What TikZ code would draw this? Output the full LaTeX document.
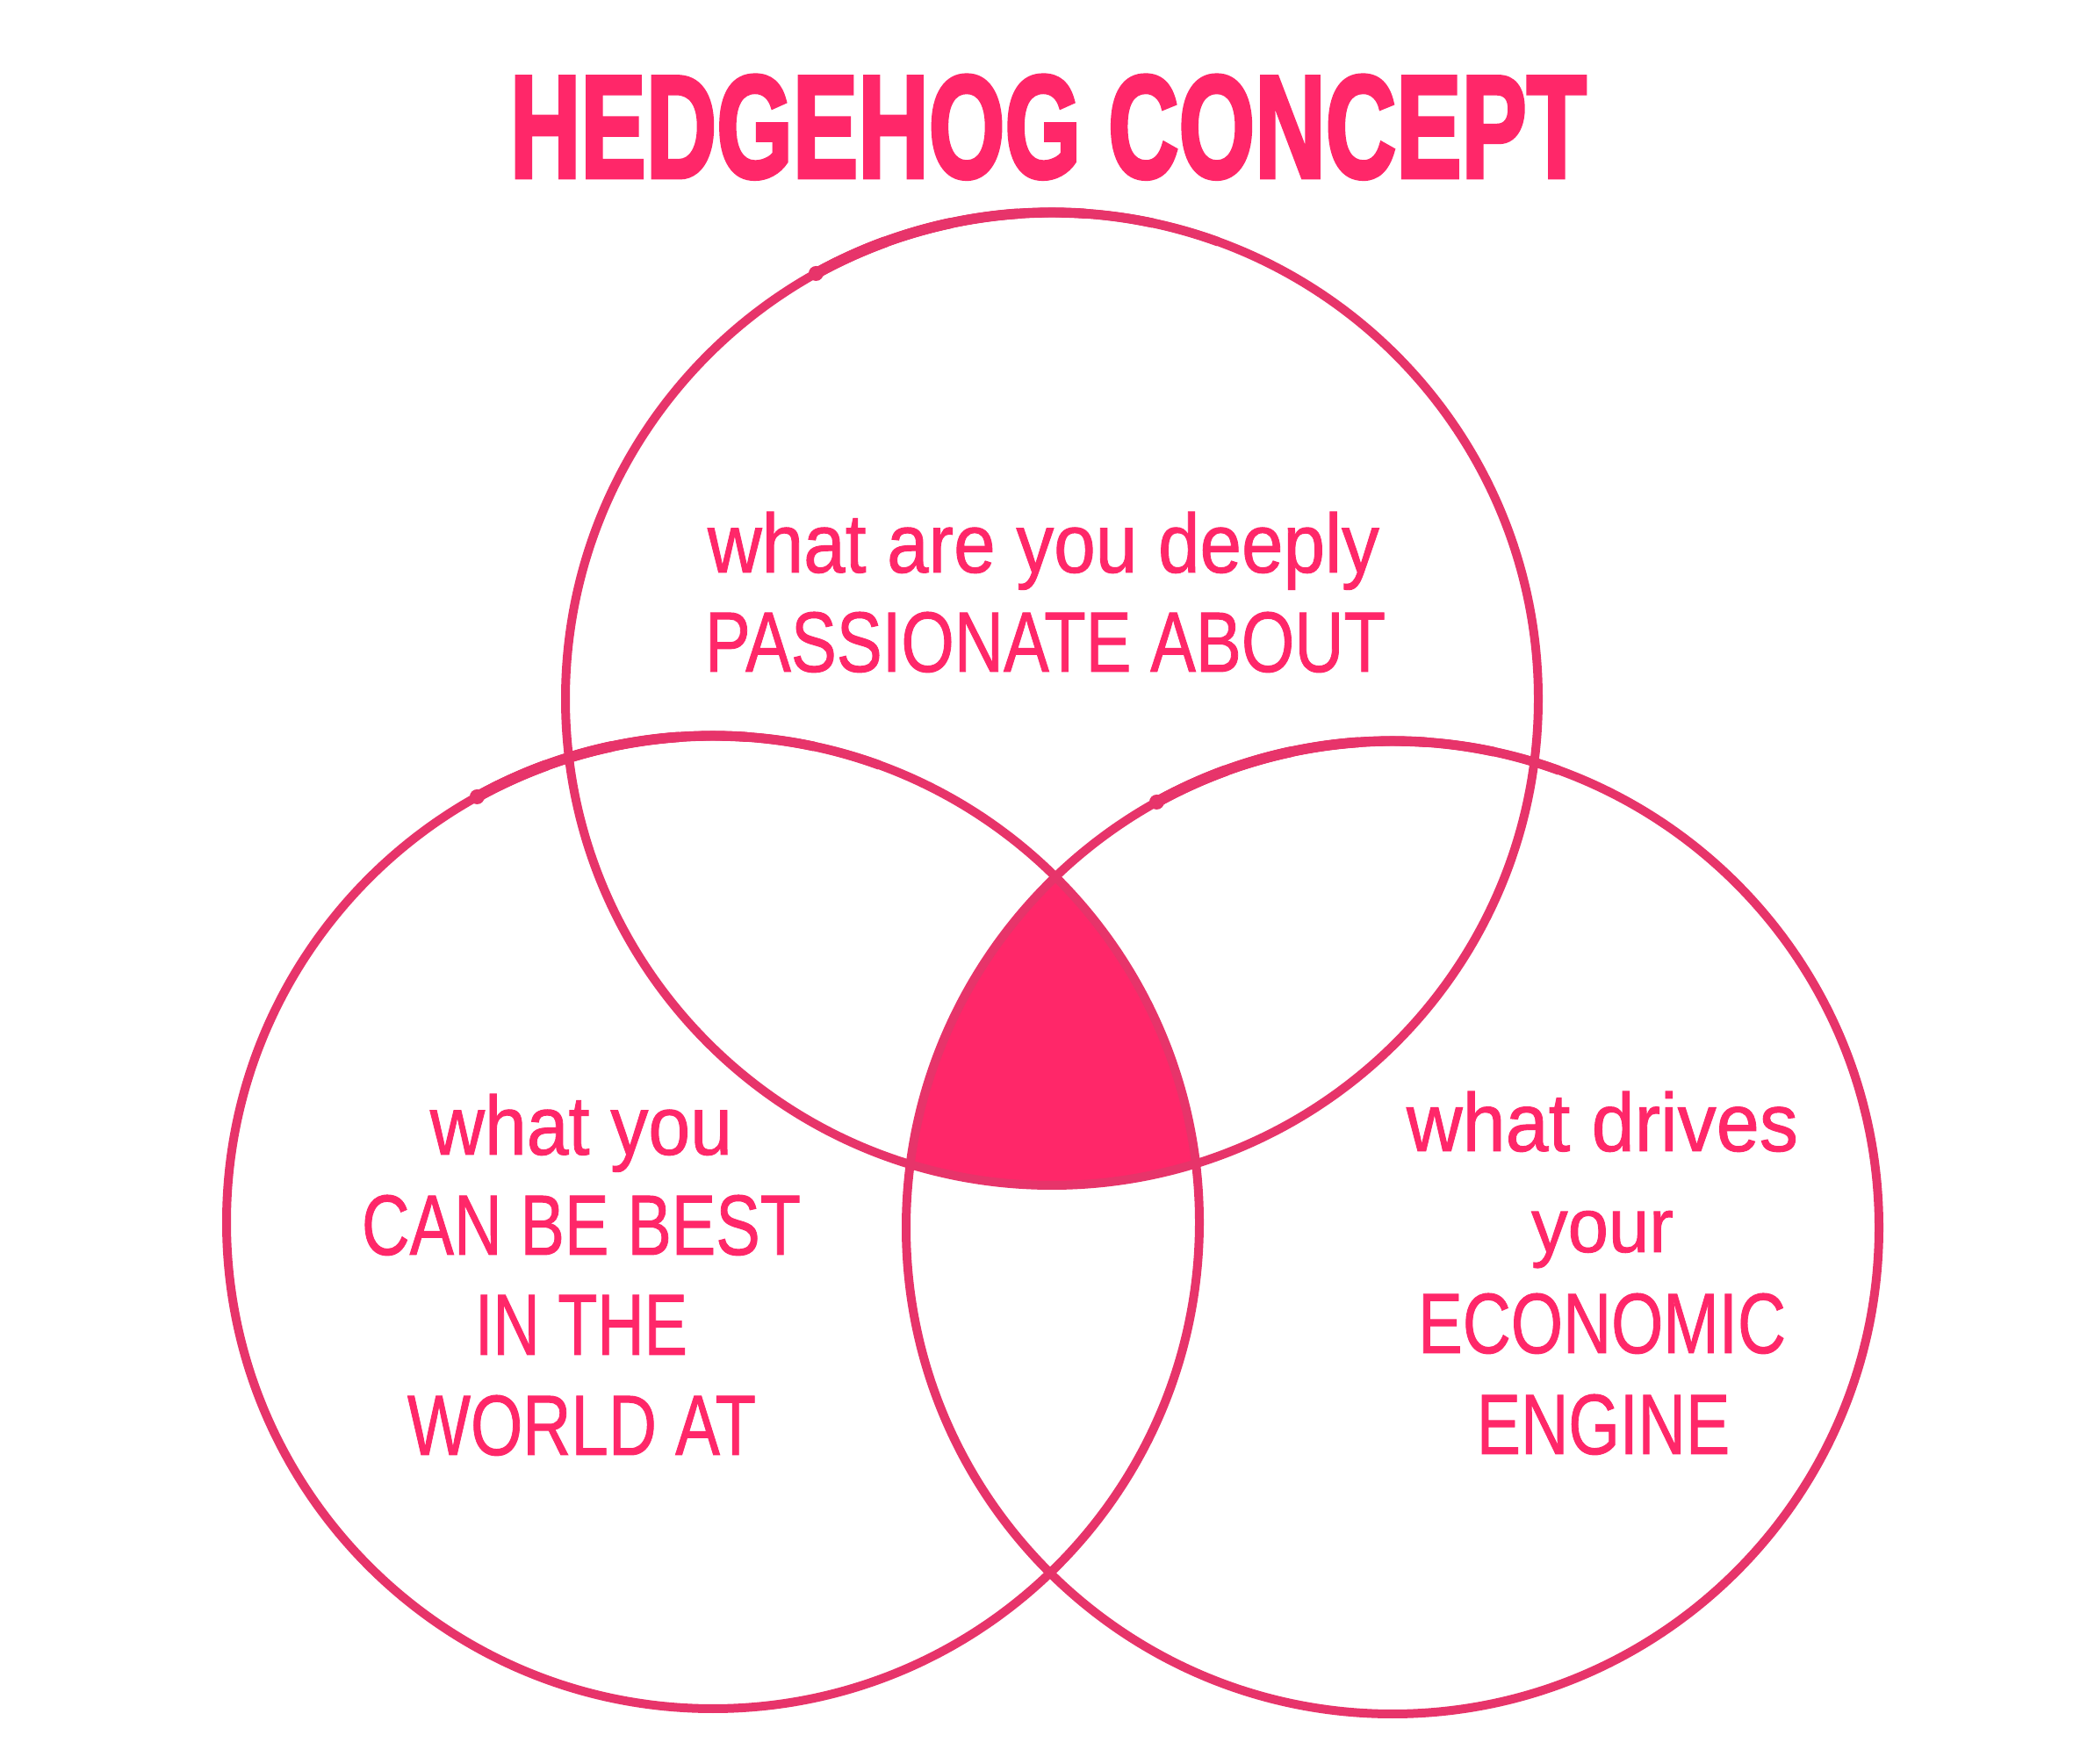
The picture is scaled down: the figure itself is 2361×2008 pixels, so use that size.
\documentclass[tikz,border=0pt]{standalone}
\usepackage{fontspec}
\usepackage{graphicx}
\setmainfont{Liberation Sans}[FakeBold=1]
\newfontfamily\titlefont{Liberation Sans}[BoldFeatures={FakeBold=3}]
\definecolor{hh}{RGB}{255,39,105}
\definecolor{ring}{RGB}{231,52,106}
\tikzset{
  ringline/.style={draw=ring, line width=10pt},
  txt/.style={anchor=base, inner sep=0pt, outer sep=0pt, text=hh},
}
\newcommand{\fitline}[3]{\resizebox{#1pt}{#2pt}{#3}}
\begin{document}
\begin{tikzpicture}[x=1pt,y=1pt]
\useasboundingbox (0,0) rectangle (2361,2008);
\fill[white] (0,0) rectangle (2361,2008);
\coordinate (T) at (1198,1212);
\coordinate (L) at (812,616);
\coordinate (R) at (1586,610);
\begin{scope}
  \clip (T) circle[radius=554pt];
  \clip (L) circle[radius=554pt];
  \fill[hh] (R) circle[radius=554pt];
\end{scope}
\foreach \cc in {T,L,R}{
  \draw[ringline] (\cc) circle[radius=554pt];
  \foreach \w/\e in {12.5/110, 12.1/102, 11.7/94, 11.3/86, 10.9/78, 10.5/70}{
    \draw[ring, line width=\w pt] ([shift={(119:554pt)}]\cc) arc[start angle=119, end angle=\e, radius=554pt];
  }
  \fill[ring] ([shift={(119:554pt)}]\cc) circle[radius=8.5pt];
}
\node[txt] (title) at (1194,1806) {\fitline{1226}{116}{\titlefont\bfseries HEDGEHOG CONCEPT}};
\node[txt] (p1) at (1188.5,1356) {\fitline{765}{69}{what are you deeply}};
\node[txt] (p2) at (1190.5,1243) {\fitline{775}{68}{PASSIONATE ABOUT}};
\node[txt] (b1) at (662,693) {\fitline{344}{69}{what you}};
\node[txt] (b2) at (662,579) {\fitline{500}{68}{CAN BE BEST}};
\node[txt] (b3) at (662,465) {\fitline{242}{68}{IN THE}};
\node[txt] (b4) at (662.5,351) {\fitline{397}{68}{WORLD AT}};
\node[txt] (e1) at (1825,697) {\fitline{446}{68}{what drives}};
\node[txt] (e2) at (1825,582) {\fitline{162}{47}{your}};
\node[txt] (e3) at (1824.5,467) {\fitline{419}{68}{ECONOMIC}};
\node[txt] (e4) at (1826,352) {\fitline{288}{68}{ENGINE}};
\end{tikzpicture}
\end{document}
